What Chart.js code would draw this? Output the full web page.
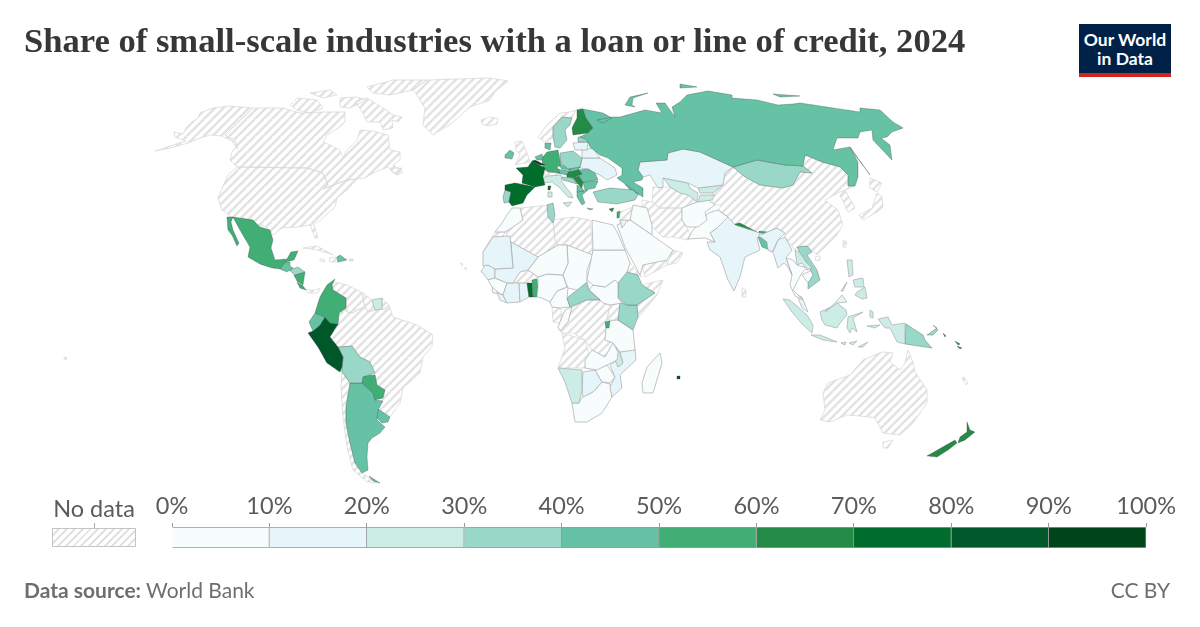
<!DOCTYPE html>
<html>
<head>
<meta charset="utf-8">
<script src="https://cdn.jsdelivr.net/npm/chart.js@4/dist/chart.umd.min.js"></script>
<style>
  html, body { margin: 0; padding: 0; background: #fff; }
  body { position: relative; width: 1200px; height: 627px; overflow: hidden; font-family: Lato, sans-serif; color: #5b5b5b; }
  #map { position: absolute; left: 0; top: 0; }
  #scale { position: absolute; left: 142px; top: 495px; }
  h1 { position: absolute; left: 24px; top: 21px; margin: 0; font: bold 34.6px "Liberation Serif", serif; color: #373737; white-space: nowrap; }
  #logo { position: absolute; left: 1079px; top: 24px; width: 92px; height: 53px; background: #002147; border-bottom: 4px solid #ce261e; box-sizing: border-box; color: #fff; font: bold 17.5px/19px Lato, sans-serif; text-align: center; padding-top: 6px; }
  #nodata { position: absolute; left: 30px; width: 128px; top: 494px; text-align: center; font-size: 23.5px; line-height: 28px; }
  #nodataBox { position: absolute; left: 52px; top: 528px; width: 84px; height: 19px; box-sizing: border-box; border: 1px solid #c4c4c4; background: repeating-linear-gradient(135deg, #fff 0, #fff 3.5px, #e2e2e2 3.5px, #e2e2e2 5.5px); }
  #nodataTick { position: absolute; left: 94px; top: 523px; width: 1px; height: 5px; background: #aaa; }
  #source { position: absolute; left: 24px; top: 577px; font-size: 21px; line-height: 26px; color: #6e6e6e; }
  #licence { position: absolute; right: 30px; top: 577px; font-size: 21px; line-height: 26px; color: #6e6e6e; }
</style>
</head>
<body>
<canvas id="map" width="1200" height="627"></canvas>
<h1>Share of small-scale industries with a loan or line of credit, 2024</h1>
<div id="logo">Our World<br>in Data</div>
<div id="nodata">No data</div>
<div id="nodataTick"></div>
<div id="nodataBox"></div>
<canvas id="scale" width="1036" height="53"></canvas>
<div id="source"><b>Data source:</b> World Bank</div>
<div id="licence">CC BY</div>
<script>
// share per country (middle of the colour bin)
const countries = [
  'Russia', 'Kazakhstan', 'Mongolia', 'Uzbekistan', 'Kyrgyzstan', 'Tajikistan', 'Turkey', 'Georgia', 'Afghanistan', 'Pakistan',
  'India', 'Nepal', 'Bhutan', 'Bangladesh', 'Myanmar', 'Thailand', 'Laos', 'Vietnam', 'Cambodia', 'Malaysia',
  'Indonesia', 'Philippines', 'Papua New Guinea', 'Solomon Islands', 'New Zealand', 'Mexico', 'Guatemala', 'Honduras', 'Nicaragua', 'Costa Rica',
  'Dominican Republic', 'Colombia', 'Ecuador', 'Peru', 'Bolivia', 'Paraguay', 'Argentina', 'Uruguay', 'Suriname', 'France',
  'Spain', 'Portugal', 'Belgium', 'Netherlands', 'Germany', 'Denmark', 'Ireland', 'Sweden', 'Finland', 'Poland',
  'Czechia', 'Slovakia', 'Austria', 'Hungary', 'Romania', 'Bulgaria', 'Serbia', 'Croatia', 'North Macedonia', 'Greece',
  'Italy', 'Corsica', 'Estonia', 'Latvia', 'Belarus', 'Ukraine', 'Cyprus', 'Israel', 'Jordan', 'Morocco',
  'Mauritania', 'Tunisia', 'Egypt', 'Sudan', 'Mali', 'Niger', 'Chad', 'Nigeria', 'Benin', 'Togo',
  'Ghana', 'Ivory Coast', 'Guinea', 'Sierra Leone', 'Liberia', 'Senegal', 'Central African Republic', 'Cameroon', 'South Sudan', 'Ethiopia',
  'Kenya', 'Rwanda', 'Tanzania', 'Congo', 'Zambia', 'Malawi', 'Mozambique', 'Zimbabwe', 'Namibia', 'Botswana',
  'South Africa', 'Lesotho', 'Madagascar', 'Saudi Arabia', 'Iraq', 'Mauritius'
];
const shares = [
  45, 15, 35, 25, 25, 25, 35, 45, 5, 5,
  15, 65, 55, 45, 15, 5, 25, 35, 5, 15,
  25, 25, 35, 65, 65, 55, 45, 35, 55, 55,
  45, 55, 45, 82, 35, 55, 45, 45, 25, 75,
  75, 35, 92, 45, 55, 45, 45, 35, 65, 35,
  45, 45, 45, 65, 45, 45, 65, 35, 45, 45,
  25, 75, 35, 15, 15, 15, 65, 55, 15, 5,
  15, 35, 5, 5, 15, 5, 5, 5, 55, 75,
  15, 15, 5, 5, 15, 15, 35, 5, 5, 35,
  35, 55, 5, 5, 5, 25, 15, 5, 25, 15,
  5, 5, 5, 5, 5, 85
];
const noDataCountries = [
  'United States', 'Canada', 'Greenland', 'Iceland', 'United Kingdom', 'Norway', 'Switzerland', 'Venezuela', 'Guyana', 'French Guiana',
  'Brazil', 'Chile', 'Panama', 'Cuba', 'Haiti', 'Jamaica', 'Puerto Rico', 'Cape Verde', 'China', 'Japan', 'Korea', 'Taiwan', 'Iran',
  'Turkmenistan', 'Sri Lanka', 'Australia', 'New Caledonia', 'Western Sahara', 'Algeria', 'Libya', 'Burkina Faso', 'Somalia', 'Eritrea',
  'Uganda', 'DR Congo', 'Gabon', 'Angola', 'Yemen', 'Oman', 'Syria'
];
const scaleSteps = [10, 10, 10, 10, 10, 10, 10, 10, 10, 10];
const scaleColors = ['#f7fcfd', '#e5f5f9', '#ccece6', '#99d8c9', '#66c2a5', '#41ae76', '#238b45', '#006d2c', '#00582a', '#00441b'];

// country shapes in map units, flat x,y lists, one list per landmass
const outlines = {
  'United States': [
    [237,167,307,168,323,173,328,185,323,189,347,180,357,179,347,190,337,198,335,207,317,223,313,222,318,238,315,238,310,225,297,227,282,228,273,235,265,226,257,225,252,220,233,218,222,210,218,198,228,175],
    [155,151,170,146,186,141,175,137,174,132,183,134,186,128,192,122,198,118,200,113,213,108,230,106,253,108,225,135,236,143,238,149,232,141,222,136,210,135,200,138,188,143,170,148],
    [64,357,67,358,66,360,64,359]
  ],
  'Canada': [
    [253,108,283,108,300,113,323,112,345,112,345,122,340,127,327,135,323,142,330,145,340,150,343,158,347,150,357,140,360,130,372,131,388,135,390,150,400,152,400,160,393,165,403,172,397,175,388,167,375,172,365,178,357,179,347,180,323,189,328,185,323,173,307,168,237,167,230,160,232,152,236,147,235,140,225,135],
    [355,102,367,98,383,108,393,115,402,117,398,122,392,120,393,128,383,130,380,122,367,122,363,113],
    [297,98,317,100,323,108,310,113,297,110,290,105],
    [367,87,393,80,427,80,413,90,390,95,373,93],
    [310,93,330,90,337,95,323,98],
    [340,98,357,97,367,100,350,108,340,107],
    [390,168,402,168,398,175,392,172]
  ],
  'Greenland': [[427,80,490,78,508,81,495,92,490,100,470,107,452,123,433,135,423,125,425,108,417,95,413,90]],
  'Iceland': [[481,120,490,117,498,119,497,124,488,126,482,124]],
  'United Kingdom': [[515,142,522,141,527,153,530,162,515,165,520,155,516,150]],
  'Norway': [[570,112,583,108,576,110,572,118,562,117,553,127,553,138,545,142,538,137,547,125,560,113]],
  'Switzerland': [[545,168,557,172,557,175,545,177]],
  'Venezuela': [[332,285,335,282,347,285,363,293,363,300,365,307,357,310,353,313,347,312,346,298,333,290]],
  'Guyana': [[363,293,372,300,375,310,368,312,365,307,363,300]],
  'French Guiana': [[382,298,389,305,383,310]],
  'Brazil': [[339,313,346,308,347,312,353,313,357,310,365,307,368,312,375,310,382,309,383,310,389,305,393,317,417,325,433,335,432,347,423,357,420,373,403,388,400,403,390,417,378,409,383,398,385,390,377,385,375,375,370,362,360,357,352,346,338,347,330,337,338,324]],
  'Chile': [[342,367,350,383,346,407,346,423,350,443,355,463,362,473,377,483,367,482,353,470,347,447,343,417,341,387]],
  'Panama': [[306,290,315,290,320,288,318,293,308,293]],
  'Cuba': [[303,248,317,246,333,255,318,250]],
  'Haiti': [[329,258,337,257,338,262,330,262]],
  'Jamaica': [[320,259,325,260,324,262,320,261]],
  'Puerto Rico': [[349,259,353,259,353,261,349,261]],
  'Cape Verde': [[460,263,463,264,462,266],[464,268,467,268,466,270]],
  'China': [
    [733,167,745,177,760,185,783,188,793,185,800,172,812,173,803,166,805,155,822,162,840,167,848,175,848,186,855,186,840,192,825,200,838,210,843,225,837,235,817,255,807,246,797,247,795,250,785,237,785,233,777,228,767,232,757,232,735,225,728,217,718,210,722,205,715,205,712,200,713,193,723,185,725,173],
    [815,257,820,256,820,260,816,261]
  ],
  'Japan': [[870,178,882,183,877,192,870,188],[883,207,877,212,863,220,859,215,872,208,877,193,882,197]],
  'Korea': [[845,190,855,208,848,212,840,195]],
  'Taiwan': [[843,240,847,242,845,248,843,247]],
  'Iran': [[642,200,652,202,660,208,682,208,682,220,690,233,688,240,673,237,663,237,650,225,642,212]],
  'Turkmenistan': [[653,187,663,187,670,187,680,193,688,195,697,202,682,208,660,208,652,202]],
  'Sri Lanka': [[742,288,746,290,746,297,742,297]],
  'Australia': [
    [820,420,825,410,823,393,828,383,850,375,863,360,882,352,893,353,890,362,900,370,905,363,908,350,913,362,915,372,927,390,927,403,913,423,900,435,883,433,875,418,870,417,847,415,830,422],
    [883,442,893,440,888,448,883,448]
  ],
  'New Caledonia': [[962,378,964,377,968,383,966,385]],
  'Western Sahara': [[495,232,505,232,503,237,493,237,483,252]],
  'Algeria': [[520,208,550,205,553,220,555,240,558,245,538,257,511,242,505,232,513,227,523,220]],
  'Libya': [[553,220,573,217,590,220,593,255,590,255,567,245,558,245,555,240]],
  'Burkina Faso': [[520,272,528,270,538,277,532,280,527,283,513,283]],
  'Somalia': [[642,285,663,280,657,295,638,318,637,305,655,293]],
  'Eritrea': [[630,263,642,277,638,275,627,272]],
  'Uganda': [[610,305,622,303,618,320,607,320]],
  'DR Congo': [[572,307,587,300,600,300,603,303,610,305,607,320,605,340,613,343,605,357,592,350,585,340,573,333,562,333,560,331,568,322]],
  'Gabon': [[552,307,560,308,562,313,560,323,553,322]],
  'Angola': [[562,333,585,340,590,357,585,368,558,368,565,348]],
  'Yemen': [[642,265,667,259,667,265,645,277]],
  'Oman': [[673,250,683,253,677,263,667,265]],
  'Syria': [[620,212,633,207,630,220,620,225]],

  'Russia': [
    [583,109,603,113,612,118,603,123,597,120,613,117,620,117,645,110,662,113,656,103,665,103,675,117,672,107,680,102,687,95,708,91,732,95,732,98,757,100,778,105,793,104,800,103,833,108,860,112,860,108,880,110,893,122,903,128,892,132,887,137,881,138,890,145,892,160,873,140,872,130,860,132,858,138,837,138,833,150,850,147,858,162,858,177,855,186,848,186,848,175,840,167,822,162,805,155,803,166,785,165,757,160,733,167,700,152,683,149,668,153,667,160,640,162,638,170,643,177,642,180,633,182,643,188,643,197,637,193,625,184,617,178,622,175,622,168,608,158,600,155,590,147,587,140,580,137,588,133,593,128,586,118],
    [625,105,630,97,648,93,633,98,632,105,635,107],
    [850,147,870,175,865,168,855,155],
    [680,84,697,87,680,88],
    [773,94,800,96,780,97]
  ],
  'Kazakhstan': [[640,162,667,160,668,153,683,149,700,152,733,167,725,173,723,185,698,188,688,183,663,178,663,187,658,188,653,180,650,175,643,177,638,170]],
  'Mongolia': [[733,167,757,160,785,165,803,166,812,173,800,172,793,185,783,188,760,185,745,177]],
  'Uzbekistan': [[663,178,688,183,690,188,698,193,697,202,688,195,680,193,670,187]],
  'Kyrgyzstan': [[698,188,723,185,713,193,700,193]],
  'Tajikistan': [[700,195,715,195,712,200,698,202]],
  'Turkey': [[593,192,610,188,633,190,638,195,635,200,617,204,598,202]],
  'Georgia': [[625,184,637,190,643,193,640,195,630,190]],
  'Afghanistan': [[682,208,697,202,708,200,715,205,705,212,707,220,698,227,687,227,682,220]],
  'Pakistan': [[708,213,718,210,728,217,717,228,710,233,715,242,705,238,688,239,693,230,705,217]],
  'India': [
    [718,210,728,217,735,225,757,232,760,235,757,238,760,250,745,257,740,277,734,291,728,280,720,257,710,250,707,242,715,242,710,233,717,228],
    [758,236,777,228,785,233,778,240,772,252,768,250,767,242,762,238]
  ],
  'Nepal': [[735,224,740,223,757,232,756,235,745,233,735,228]],
  'Bhutan': [[759,231,767,232,767,234,759,233]],
  'Bangladesh': [[758,237,767,238,772,252,767,249,762,247]],
  'Myanmar': [[773,252,778,240,785,237,792,250,786,258,792,275,788,267,784,263,778,268]],
  'Thailand': [[786,258,793,260,797,265,807,268,802,273,798,280,793,290,803,300,795,296,790,285,792,275]],
  'Laos': [[795,250,800,253,807,263,812,268,807,270,802,263,797,265]],
  'Vietnam': [[797,247,807,246,812,252,807,255,817,270,820,280,808,289,808,283,813,275,807,263,800,253]],
  'Cambodia': [[802,275,812,270,814,277,808,283]],
  'Malaysia': [
    [797,295,802,297,808,312,802,308],
    [825,312,835,303,842,295,847,302,837,303,833,306]
  ],
  'Indonesia': [
    [783,299,790,300,807,315,813,325,812,333,803,325,792,312],
    [811,335,820,335,837,342,823,340],
    [820,312,833,306,837,303,846,310,847,315,840,323,837,328,825,325,822,320],
    [848,317,863,312,853,318,857,332,852,328,850,333,847,328],
    [878,319,888,317,892,325,905,323,905,344,897,342,890,328,885,328],
    [858,347,868,342,863,347],
    [870,310,873,312,873,318,870,317],
    [841,343,846,342,845,345],
    [849,343,857,341,853,345],
    [867,326,880,325,875,328]
  ],
  'Philippines': [
    [847,260,852,260,853,275,849,277],
    [857,292,865,287,867,298,862,299,855,295],
    [853,280,863,278,864,287,855,287],
    [841,291,847,282,843,291]
  ],
  'Papua New Guinea': [
    [906,324,923,335,925,340,932,348,918,346,905,344],
    [927,335,937,328,933,325,938,330,933,335]
  ],
  'Solomon Islands': [[943,333,946,336,945,337],[955,341,960,344,958,345],[957,346,962,348,960,349]],
  'New Zealand': [
    [927,456,955,440,957,443,948,450,937,457],
    [967,422,970,430,975,432,965,440,958,443,960,437,967,432]
  ],
  'Mexico': [
    [233,217,253,220,260,227,270,230,273,240,271,248,275,260,287,259,291,252,298,251,294,260,285,262,280,269,272,268,260,264,248,257,250,247,240,230,234,219],
    [227,217,233,217,231,222,233,230,239,243,237,246,232,235,228,230]
  ],
  'Guatemala': [[280,269,285,262,290,262,290,266,293,268,287,272]],
  'Honduras': [[289,270,298,267,305,272,295,275]],
  'Nicaragua': [[294,275,305,272,303,285,297,281]],
  'Costa Rica': [[297,282,303,286,306,290,300,288]],
  'Dominican Republic': [[337,257,340,255,347,260,338,262]],
  'Colombia': [[335,279,327,285,320,297,315,313,325,317,330,323,338,324,339,313,346,308,346,298,333,290,332,285]],
  'Ecuador': [[315,313,325,317,320,325,313,331,309,322]],
  'Peru': [[325,317,330,323,338,324,330,337,338,347,343,357,342,367,340,372,327,363,318,347,308,333,313,331,320,325]],
  'Bolivia': [[338,347,352,346,360,357,370,362,375,373,363,377,362,383,350,383,342,372,343,357]],
  'Paraguay': [[363,376,375,375,377,385,385,390,383,398,375,400,373,393,362,383]],
  'Argentina': [
    [350,383,362,383,373,393,375,400,383,401,378,410,377,420,385,427,380,433,372,438,368,443,367,457,368,470,362,473,355,463,350,443,346,423,346,407],
    [369,476,380,483,373,481]
  ],
  'Uruguay': [[378,409,390,417,388,422,382,423,377,418]],
  'Suriname': [[372,300,382,298,382,309,375,310]],
  'France': [[516,168,528,167,532,161,545,168,543,177,545,185,535,187,522,183,523,175]],
  'Spain': [[505,185,515,183,535,187,527,195,523,203,512,206,509,202,511,192,505,190]],
  'Portugal': [[505,190,511,192,509,202,504,203,503,197]],
  'Belgium': [[532,161,535,160,545,165,540,165]],
  'Netherlands': [[535,157,542,154,543,160,537,160]],
  'Germany': [[542,158,547,152,558,150,561,165,557,167,560,173,548,172,543,168]],
  'Denmark': [[545,143,551,143,550,150,545,148]],
  'Ireland': [[505,155,510,150,514,153,512,159,505,158]],
  'Sweden': [[562,117,572,118,570,125,565,130,567,140,560,148,555,147,553,137,553,127]],
  'Finland': [[577,110,583,109,586,118,593,128,588,133,573,135,572,128,577,118]],
  'Poland': [[560,153,573,151,582,158,580,167,568,169,561,163]],
  'Czechia': [[558,164,568,167,571,170,562,169]],
  'Slovakia': [[568,168,580,167,578,170,570,172]],
  'Austria': [[557,169,569,171,567,175,557,173]],
  'Hungary': [[567,173,571,170,578,169,582,174,573,178,567,177]],
  'Romania': [[578,170,588,169,595,173,598,180,583,182,580,177]],
  'Bulgaria': [[583,182,598,181,595,188,585,190]],
  'Serbia': [[573,178,579,176,583,182,582,188,577,183]],
  'Croatia': [[562,177,572,178,577,184,570,182,563,180]],
  'North Macedonia': [[577,185,582,188,584,191,577,192]],
  'Greece': [[577,192,588,190,582,195,585,203,582,205,577,197],[587,208,593,209,590,210]],
  'Italy': [
    [543,178,548,176,561,175,562,182,572,195,573,198,568,197,560,188,552,182,544,183],
    [548,192,552,192,552,197,548,197],
    [563,203,572,202,568,207]
  ],
  'Corsica': [[548,186,551,186,550,190,548,190]],
  'Estonia': [[578,137,588,137,588,142,578,142]],
  'Latvia': [[573,143,588,142,587,150,575,150]],
  'Belarus': [[582,150,593,148,600,158,582,158]],
  'Ukraine': [[580,168,582,158,600,158,615,168,617,175,607,180,600,175,595,173,588,169]],
  'Cyprus': [[609,209,614,208,612,212]],
  'Israel': [[617,212,620,211,619,218,617,218]],
  'Jordan': [[620,220,628,220,622,228]],
  'Morocco': [[512,208,520,208,523,220,513,227,505,232,495,232,502,223,507,215]],
  'Mauritania': [[493,237,510,236,513,268,495,269,488,265,483,266,483,252]],
  'Tunisia': [[547,205,553,203,555,215,553,223,548,217]],
  'Egypt': [[592,220,613,225,617,232,625,250,593,250]],
  'Sudan': [[593,250,625,250,630,263,627,272,618,283,615,280,605,287,593,285,587,280,589,270]],
  'Mali': [[511,242,538,257,528,270,520,272,513,283,507,283,495,278,495,269,513,268]],
  'Niger': [[538,257,558,245,567,245,568,263,563,275,547,274,538,277,528,270]],
  'Chad': [[567,245,593,255,587,270,587,282,577,290,568,288,563,275,568,263]],
  'Nigeria': [[538,277,547,274,563,275,567,287,557,291,550,302,542,298,537,297,538,287]],
  'Benin': [[532,280,537,279,538,287,537,297,533,297]],
  'Togo': [[527,283,532,283,533,297,529,297]],
  'Ghana': [[519,283,527,283,529,297,520,302]],
  'Ivory Coast': [[507,283,519,283,520,302,507,303,503,295]],
  'Guinea': [[488,280,495,278,507,283,503,295,498,292,492,287]],
  'Sierra Leone': [[492,287,498,287,497,293,493,293]],
  'Liberia': [[497,293,503,295,507,303,500,300]],
  'Senegal': [[481,272,485,265,488,265,495,269,495,278,488,280,483,273]],
  'Central African Republic': [[567,298,577,290,587,282,589,290,600,300,587,300,580,303,570,307]],
  'Cameroon': [[557,291,567,287,568,288,567,298,570,307,560,308,552,307,550,302]],
  'South Sudan': [[593,285,605,287,615,280,618,283,618,298,622,303,610,305,603,303,598,298,589,290]],
  'Ethiopia': [[627,272,638,275,642,285,655,293,637,305,627,305,618,298,618,283]],
  'Kenya': [[620,302,627,305,637,305,638,317,633,330,618,320]],
  'Rwanda': [[605,322,610,321,609,328,606,328]],
  'Tanzania': [[609,321,618,320,633,330,635,350,620,352,613,343,605,340,606,328]],
  'Congo': [[565,310,572,307,568,322,560,331,558,327]],
  'Zambia': [[585,360,592,350,605,357,613,343,618,352,617,360,607,365,597,370,585,368]],
  'Malawi': [[617,345,619,352,623,363,618,367,615,360]],
  'Mozambique': [[620,352,635,349,636,360,620,375,622,388,612,397,610,387,615,377,610,365,617,360,618,367,623,363]],
  'Zimbabwe': [[595,370,607,365,615,377,610,383,602,382]],
  'Namibia': [[558,368,582,370,582,390,579,403,572,403,565,382]],
  'Botswana': [[583,372,595,370,602,382,593,392,583,397,582,390]],
  'South Africa': [[582,397,593,392,602,382,610,384,612,397,602,413,587,422,575,422,572,403,579,403]],
  'Lesotho': [[597,407,601,403,603,407,600,410]],
  'Madagascar': [[660,353,662,363,653,393,643,393,642,383,647,367]],
  'Saudi Arabia': [[617,225,630,220,652,235,663,243,673,250,667,260,643,265,640,275,633,262,625,247]],
  'Iraq': [[630,220,633,205,647,208,652,225,652,235]],
  'Mauritius': [[677,376,680,376,680,379,677,379]]
};

function ringPoints(flat) {
  const pts = [];
  for (let i = 0; i < flat.length; i += 2) pts.push({ x: flat[i], y: flat[i + 1] });
  pts.push({ x: flat[0], y: flat[1] }); // close the shape
  return pts;
}

function hatchPattern(ctx) {
  const size = 8.5;
  const tile = document.createElement('canvas');
  tile.width = tile.height = 17;
  const t = tile.getContext('2d');
  t.strokeStyle = '#e2e2e2';
  t.lineWidth = 2.4;
  t.beginPath();
  for (let i = -1; i <= 2; i++) {
    t.moveTo(i * size * 2 - 17, 17 * 2);
    t.lineTo(i * size * 2 + 17, 0);
    t.moveTo(i * size * 2 - 17 + size, 17 * 2);
    t.lineTo(i * size * 2 + 17 + size, 0);
  }
  t.stroke();
  return ctx.createPattern(tile, 'repeat');
}

const mapCtx = document.getElementById('map').getContext('2d');
const hatch = hatchPattern(mapCtx);
const mapSets = [];

// tiny tension keeps Chart.js off its fast path, which merges points sharing a pixel column
noDataCountries.forEach(name => {
  outlines[name].forEach(ring => {
    mapSets.push({ label: name, data: ringPoints(ring), order: 2, fill: 'shape', tension: 0.001, backgroundColor: hatch, borderColor: '#d8d8d8', borderWidth: 0.8 });
  });
});
countries.forEach((name, i) => {
  const bin = Math.min(Math.floor(shares[i] / 10), 9);
  outlines[name].forEach(ring => {
    mapSets.push({ label: name, data: ringPoints(ring), order: 1, fill: 'shape', tension: 0.001, backgroundColor: scaleColors[bin], borderColor: bin < 3 ? '#a8a8a8' : 'rgba(60,60,60,0.45)', borderWidth: 0.7 });
  });
});

new Chart(mapCtx, {
  type: 'scatter',
  data: { datasets: mapSets },
  options: {
    responsive: false,
    animation: false,
    events: [],
    elements: { point: { radius: 0 } },
    datasets: { scatter: { showLine: true } },
    layout: { padding: 0 },
    scales: {
      x: { type: 'linear', min: 0, max: 1200, display: false },
      y: { type: 'linear', min: 0, max: 627, reverse: true, display: false }
    },
    plugins: { legend: { display: false }, tooltip: { enabled: false } }
  }
});

// colour scale under the map
new Chart(document.getElementById('scale').getContext('2d'), {
  type: 'bar',
  data: {
    labels: ['Share'],
    datasets: scaleSteps.map((step, i) => ({ data: [step], backgroundColor: scaleColors[i], borderColor: '#999', borderWidth: 1, barPercentage: 1, categoryPercentage: 1 }))
  },
  options: {
    indexAxis: 'y',
    responsive: false,
    animation: false,
    events: [],
    layout: { padding: { left: 30, right: 30, top: 0, bottom: 0 } },
    scales: {
      x: {
        position: 'top', stacked: true, min: 0, max: 100,
        afterFit: axis => { axis.height = 32; },
        border: { display: false },
        grid: { drawOnChartArea: false, tickLength: 4, tickColor: '#999' },
        ticks: { stepSize: 10, maxRotation: 0, autoSkip: false, padding: 2, color: '#5b5b5b', font: { family: 'Lato', size: 23.5 }, callback: v => v + '%' }
      },
      y: { stacked: true, display: false }
    },
    plugins: { legend: { display: false }, tooltip: { enabled: false } }
  }
});
</script>
</body>
</html>
